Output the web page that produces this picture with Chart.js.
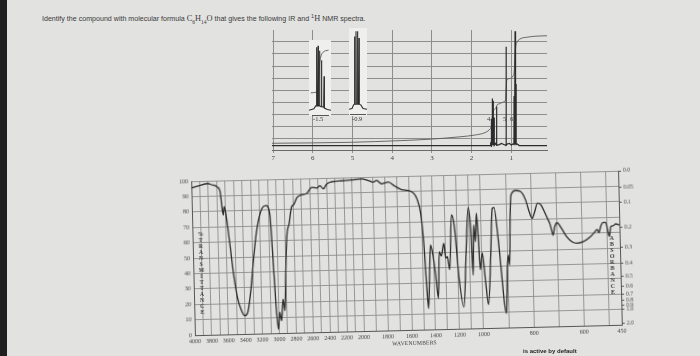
<!DOCTYPE html>
<html><head><meta charset="utf-8">
<script src="https://cdn.jsdelivr.net/npm/chart.js@4/dist/chart.umd.min.js"></script>
<style>
html,body{margin:0;padding:0;}
body{width:700px;height:356px;background:#e2e2e0;position:relative;overflow:hidden;font-family:"Liberation Sans",Arial,sans-serif;}
#strip{position:absolute;left:0;top:0;width:7px;height:356px;background:#1f1f1f;}
#title{position:absolute;left:42px;top:12px;font-size:7.1px;line-height:9px;color:#3a3a3a;white-space:nowrap;}
#title .f{font-family:"Liberation Serif",serif;font-size:8.3px;}
#title sub,#title sup{font-size:5.5px;}
.abs{position:absolute;}
canvas{position:absolute;}
.lbl{position:absolute;font-family:"Liberation Serif",serif;color:#3a3a3a;white-space:nowrap;}
.vert{writing-mode:vertical-lr;text-orientation:upright;font-family:"Liberation Serif",serif;color:#3a3a3a;position:absolute;line-height:7px;}
#irwrap{position:absolute;left:0;top:0;width:700px;height:356px;transform:rotate(-1.4deg);transform-origin:406.5px 253px;}
.inset{background:#efefee;}
.uline{position:absolute;height:0;border-top:1px solid #555;}
</style></head>
<body>
<div id="strip"></div>
<div id="title">Identify the compound with molecular formula <span class="f">C<sub>6</sub>H<sub>14</sub>O</span> that gives the following IR and <sup>1</sup><span class="f">H</span> NMR spectra.</div>

<canvas id="nmr" width="300" height="150" style="left:262px;top:20px;width:300px;height:150px"></canvas>
<canvas id="inset1" class="inset" width="22" height="76" style="left:309px;top:40px;width:22px;height:76px"></canvas>
<canvas id="inset2" class="inset" width="18" height="88" style="left:349px;top:28px;width:18px;height:88px"></canvas>
<div class="uline" style="left:312px;top:115px;width:17px"></div>
<div class="uline" style="left:350px;top:114px;width:16px"></div>
<div class="lbl" style="left:313px;top:115px;font-size:6.5px">-1.5</div>
<div class="lbl" style="left:352px;top:115px;font-size:6.5px">-0.9</div>
<div class="lbl" style="left:487px;top:115px;font-size:6.5px">4</div>
<div class="lbl" style="left:503px;top:115px;font-size:6.5px">5</div>
<div class="lbl" style="left:510px;top:115px;font-size:6.5px">6</div>

<div id="irwrap">
  <canvas id="ir" width="480" height="185" style="left:170px;top:168px;width:480px;height:185px"></canvas>
  <div class="vert" style="left:197px;top:226px;font-size:5.5px;font-weight:bold">%TRANSMITTANCE</div>
  <div class="vert" style="left:608px;top:240px;font-size:6px;font-weight:bold">ABSORBANCE</div>
  <div class="lbl" style="left:390px;top:340px;font-size:5.6px;letter-spacing:0.2px">WAVENUMBERS</div>
</div>
<div class="lbl" style="left:523px;top:348px;font-size:6px;font-weight:bold;font-family:'Liberation Sans',Arial,sans-serif;color:#222">is active by default</div>

<script>
// ---------------- DATA ----------------
// 1H NMR trace (ppm, intensity)
const nmrPpm = [7.03,1.53,1.52,1.506,1.503,1.50,1.497,1.481,1.478,1.475,1.458,1.455,1.452,1.433,1.43,1.427,1.40,1.373,1.37,1.367,1.30,1.25,1.16,1.133,1.13,1.127,1.10,1.05,1.00,0.96,0.933,0.93,0.927,0.908,0.905,0.902,0.883,0.88,0.877,0.85,0.80,0.10];
const nmrInt = [0.37,0.37,0.5,0.4,0.37,2.6,0.37,0.45,4.3,0.45,0.45,4.1,0.45,0.4,2.7,0.4,0.55,0.4,3.6,0.4,0.45,0.55,0.42,0.4,8.6,0.4,0.5,0.55,0.42,0.5,0.45,4.5,0.45,0.45,9.9,0.45,0.45,5.5,0.45,0.5,0.37,0.37];
// NMR integral curve
const integPpm = [7.03,5.06,3.8,3.05,2.29,1.91,1.66,1.56,1.51,1.49,1.47,1.45,1.42,1.38,1.36,1.30,1.20,1.145,1.13,1.115,1.05,0.95,0.925,0.905,0.89,0.86,0.78,0.6,0.4,0.1];
const integVal = [0.56,0.64,0.78,0.9,1.1,1.25,1.45,1.67,1.9,2.3,2.9,3.25,3.4,3.55,3.75,3.85,4.0,4.17,5.0,5.8,5.95,6.2,6.6,7.8,8.6,8.95,9.25,9.4,9.48,9.52];
const nmrTicks = [7,6,5,4,3,2,1];
// Expansion insets
const inset1Ppm = [1.56,1.52,1.505,1.502,1.499,1.496,1.489,1.486,1.483,1.477,1.474,1.471,1.461,1.458,1.455,1.440,1.437,1.434,1.41,1.38];
const inset1Int = [0.3,0.5,0.9,0.9,9.0,0.9,0.9,9.2,0.9,0.9,8.5,0.9,0.8,7.2,0.8,0.7,5.0,0.6,0.4,0.3];
const inset1IntegPpm = [1.545,1.50,1.485,1.475,1.465,1.445,1.40];
const inset1IntegVal = [2.7,2.8,3.4,6.5,7.6,8.3,8.6];
const inset2Ppm = [0.99,0.96,0.945,0.938,0.935,0.932,0.923,0.92,0.917,0.908,0.905,0.902,0.893,0.89,0.887,0.87,0.85,0.81];
const inset2Int = [0.3,0.4,0.8,0.9,9.0,0.9,0.9,9.6,0.9,0.9,9.6,0.9,0.9,8.8,0.9,0.8,0.4,0.3];
// IR spectrum (wavenumber cm-1, %T)
const irWn = [4000,3917,3800,3760,3720,3689,3672,3660,3640,3630,3618,3600,3562,3523,3483,3444,3405,3365,3325,3286,3246,3207,3168,3121,3080,3057,3033,3010,2990,2970,2947,2927,2911,2884,2852,2820,2793,2754,2695,2636,2576,2517,2477,2438,2399,2340,2222,2103,1989,1933,1892,1864,1822,1767,1711,1656,1600,1558,1531,1503,1483,1467,1456,1442,1428,1411,1392,1372,1356,1339,1317,1303,1289,1272,1247,1225,1197,1161,1133,1106,1089,1078,1064,1053,1039,1028,1017,999,988,979,965,955,948,935,925,915,908,901,896,891,885,879,861,841,821,808,797,788,774,761,748,734,728,721,715,708,698,681,661,641,621,595,568,548,539,532,525,515,504,495,491,484,475,464,455,450];
const irT = [95.5,96.8,98.2,97.4,96.8,95.7,94.7,92.5,80.8,77.6,83,78.7,59.5,38,23,15.6,11.8,14.6,28.5,47.7,64.8,75.5,81.5,83,77.6,51.7,19.6,2.5,13.5,8,22,14.5,34.8,62.8,71.4,81.8,83.3,87.8,89.5,90.3,94.1,93.6,95.1,92.9,96,97.4,97.9,98.3,98.8,97.7,96.5,97.6,95.3,96.3,93.5,91.2,90.5,88.7,85,75.3,55.8,27.6,13.6,34.2,54.7,49.2,36.4,20.1,50.3,47.5,55.8,46,47,38.5,74.1,66.5,33.6,14.1,48.7,78.6,63.8,34.6,67.1,56.2,74.7,59.5,37.9,48.7,29.3,15.2,48.6,77.5,78.2,59.2,37.6,15.6,9.2,37.3,47,40.6,69.8,86,88.8,88.1,82.4,74.8,70.5,73.8,80.3,79.2,74.9,69.5,67.3,63,59.2,64.6,67.2,63.5,58,54.7,53.6,54.6,57.5,60.8,62.3,60.1,64,66.6,66.6,59.6,57.5,64,64.4,65.6,65.1,65];
const irTickLabels = [4000,3800,3600,3400,3200,3000,2800,2600,2400,2200,2000,1800,1600,1400,1200,1000,800,600,450];
const pctTicks = [0,10,20,30,40,50,60,70,80,90,100];
const absLabels = ['0.0','0.05','0.1','0.2','0.3','0.4','0.5','0.6','0.7','0.8','0.9','1.0','2.0'];

// ---------------- CHART SETUP ----------------
Chart.defaults.font.family = "'Liberation Serif', serif";
Chart.defaults.color = '#3a3a3a';
Chart.defaults.animation = false;

// piecewise wavenumber axis (chart paper changes scale at 2000 and 1000 cm-1)
const irBreakVals = [4000, 2000, 1000, 450];
const irBreakFrac = [0, 0.3958, 0.6768, 1];
function irFrac(v){
  for (let i=0;i<irBreakVals.length-1;i++){
    const a=irBreakVals[i], b=irBreakVals[i+1];
    if (v<=a && v>=b || i===irBreakVals.length-2){
      return irBreakFrac[i] + (a-v)/(a-b)*(irBreakFrac[i+1]-irBreakFrac[i]);
    }
  }
  return 0;
}
function irValue(f){
  for (let i=0;i<irBreakFrac.length-1;i++){
    const a=irBreakFrac[i], b=irBreakFrac[i+1];
    if (f>=a && f<=b || i===irBreakFrac.length-2){
      return irBreakVals[i] - (f-a)/(b-a)*(irBreakVals[i]-irBreakVals[i+1]);
    }
  }
  return 4000;
}
class IrScale extends Chart.LinearScale {
  getPixelForValue(v){ return this.getPixelForDecimal(irFrac(v)); }
  getValueForPixel(p){ return irValue(this.getDecimalForPixel(p)); }
}
IrScale.id = 'irscale';
IrScale.defaults = Chart.LinearScale.defaults;
Chart.register(IrScale);

const noPlug = {legend:{display:false},tooltip:{enabled:false}};
const gridCol = '#8d8d8b';

// NMR main chart
new Chart(document.getElementById('nmr'), {
  type:'line',
  data:{datasets:[
    {data: nmrPpm.map((p,i)=>({x:p,y:nmrInt[i]})), borderColor:'#2c2c2c', borderWidth:1.2, pointRadius:0, tension:0},
    {data: integPpm.map((p,i)=>({x:p,y:integVal[i]})), borderColor:'#5a5a5a', borderWidth:0.9, pointRadius:0, cubicInterpolationMode:'monotone'}
  ]},
  options:{
    responsive:false, maintainAspectRatio:false,
    layout:{padding:{left:10,right:15,top:10,bottom:6}},
    plugins:noPlug,
    scales:{
      x:{type:'linear', reverse:true, min:0.1, max:7.03,
         afterBuildTicks:s=>{s.ticks = nmrTicks.map(v=>({value:v}));},
         afterFit:s=>{s.height=14;},
         grid:{color:gridCol, lineWidth:1, tickLength:3},
         border:{display:true,color:'#6a6a6a'},
         ticks:{padding:1,font:{size:7},color:'#444',autoSkip:false,maxRotation:0}},
      y:{min:0,max:10,
         ticks:{display:false,stepSize:1},
         afterFit:s=>{s.width=0;},
         grid:{drawTicks:false,color:c=>c.tick && c.tick.value===10?'rgba(0,0,0,0)':gridCol},
         border:{display:false}}
    }
  }
});

function insetChart(id, ppm, inten, integP, integV, xmax, xmin){
  const ds = [{data: ppm.map((p,i)=>({x:p,y:inten[i]})), borderColor:'#2c2c2c', borderWidth:1.1, pointRadius:0, tension:0}];
  if (integP) ds.push({data: integP.map((p,i)=>({x:p,y:integV[i]})), borderColor:'#5a5a5a', borderWidth:0.9, pointRadius:0, cubicInterpolationMode:'monotone'});
  new Chart(document.getElementById(id), {
    type:'line', data:{datasets:ds},
    options:{responsive:false, maintainAspectRatio:false, layout:{padding:0}, plugins:noPlug,
      scales:{x:{type:'linear',reverse:true,min:xmin,max:xmax,display:false},
              y:{min:-0.5,max:10,display:false}}}
  });
}
insetChart('inset1', inset1Ppm, inset1Int, inset1IntegPpm, inset1IntegVal, 1.56, 1.38);
insetChart('inset2', inset2Ppm, inset2Int, null, null, 0.99, 0.81);

// IR chart
const irGrid = [];
for (let w=4000; w>=500; w-=100) irGrid.push(w);
irGrid.push(450);
new Chart(document.getElementById('ir'), {
  type:'line',
  data:{datasets:[{data: irWn.map((w,i)=>({x:w,y:irT[i]})), borderColor:'#2a2a2a', borderWidth:1.3, pointRadius:0, cubicInterpolationMode:'monotone'}]},
  options:{
    responsive:false, maintainAspectRatio:false,
    layout:{padding:{left:5,right:4,top:8,bottom:11}},
    plugins:noPlug,
    scales:{
      x:{type:'irscale', min:450, max:4000,
         afterBuildTicks:s=>{s.ticks = irGrid.map(v=>({value:v}));},
         afterFit:s=>{s.height=12;},
         grid:{color:gridCol,lineWidth:0.9,drawTicks:false},
         border:{color:'#555'},
         ticks:{autoSkip:false,maxRotation:0,minRotation:0,padding:3,font:{size:6},color:'#444',
                callback:v=> irTickLabels.includes(v)? String(v): ''}},
      y:{min:0,max:100,
         afterBuildTicks:s=>{s.ticks = pctTicks.map(v=>({value:v}));},
         afterFit:s=>{s.width=18;},
         grid:{color:gridCol,lineWidth:0.9,drawTicks:false},
         border:{color:'#555'},
         ticks:{padding:3,font:{size:6},color:'#444'}},
      y2:{position:'right',min:0,max:100,
         afterBuildTicks:s=>{s.ticks = absLabels.map(a=>({value:100*Math.pow(10,-parseFloat(a))}));},
         afterFit:s=>{s.width=26;},
         grid:{drawOnChartArea:false,tickLength:3,color:'#555'},
         border:{color:'#555'},
         ticks:{padding:2,font:{size:5.5},color:'#444',autoSkip:false,
                callback:(v,i)=>absLabels[i]}}
    }
  }
});
</script>
</body></html>
